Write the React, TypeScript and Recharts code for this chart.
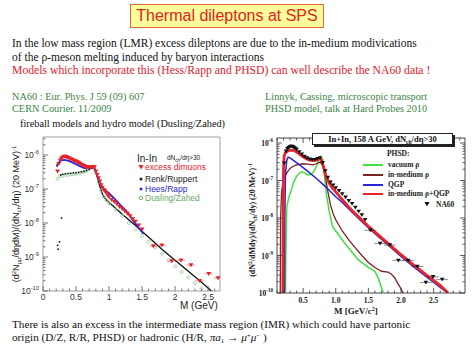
import React from 'react';
import { ComposedChart, Line, XAxis, YAxis, ReferenceArea } from 'recharts';

// ---------- left plot: NA60 excess vs. fireball / hydro models ----------
const excessM = [0.22, 0.24, 0.26, 0.28, 0.3, 0.32, 0.34, 0.36, 0.38, 0.4, 0.42, 0.44, 0.46, 0.48, 0.5, 0.52, 0.54, 0.56, 0.58, 0.6, 0.62, 0.64, 0.66, 0.68, 0.7, 0.72, 0.74, 0.76, 0.78, 0.8, 0.82, 0.84, 0.86, 0.88, 0.9, 0.92, 0.94, 0.96, 0.98, 1.0, 1.04, 1.08, 1.12, 1.16, 1.2, 1.24, 1.28, 1.32, 1.36, 1.4, 1.45, 1.5, 1.67, 1.8, 1.95, 2.09, 2.24, 2.37, 2.51, 2.65];
const excessY = [3.3e-7, 5.5e-7, 7e-7, 8e-7, 8.5e-7, 9e-7, 9e-7, 8.7e-7, 8.3e-7, 8e-7, 7.6e-7, 7.3e-7, 7e-7, 6.7e-7, 6.5e-7, 6.2e-7, 6e-7, 5.6e-7, 5.2e-7, 5e-7, 4.8e-7, 4.6e-7, 4.5e-7, 4.4e-7, 4.3e-7, 4.3e-7, 4.4e-7, 4.5e-7, 4.4e-7, 3.3e-7, 2.6e-7, 2.1e-7, 1.7e-7, 1.3e-7, 1.1e-7, 9.5e-8, 8.5e-8, 7.5e-8, 6.5e-8, 5.8e-8, 4.8e-8, 4.2e-8, 3.6e-8, 3e-8, 2.6e-8, 2.2e-8, 1.9e-8, 1.6e-8, 1.3e-8, 1.1e-8, 8.5e-9, 6.5e-9, 2.1e-9, 2.2e-9, 7.6e-10, 8e-10, 5.8e-10, 2e-10, 3.2e-10, 2.4e-10];

const heesM = [0.21, 0.22, 0.25, 0.28, 0.32, 0.36, 0.4, 0.45, 0.5, 0.55, 0.6, 0.65, 0.7, 0.74, 0.77, 0.8, 0.84, 0.88, 0.92, 0.96, 1.0, 1.1, 1.2, 1.3, 1.36, 1.42, 1.48, 1.52];
const heesY = [4.5e-7, 5.5e-7, 6.5e-7, 7e-7, 7.2e-7, 7e-7, 6.6e-7, 6e-7, 5.4e-7, 4.8e-7, 4.3e-7, 4e-7, 4e-7, 4.2e-7, 4.3e-7, 3.2e-7, 2e-7, 1.3e-7, 1e-7, 8.5e-8, 7.5e-8, 4.8e-8, 3e-8, 1.8e-8, 1.2e-8, 8.5e-9, 6e-9, 4.8e-9];

const renkDotM = [0.22, 0.23, 0.25, 0.27, 0.28, 0.3, 0.34, 0.38, 0.42, 0.46, 0.5, 0.54, 0.58, 0.62, 0.66, 0.7, 0.74];
const renkDotY = [2.2e-9, 1.7e-9, 2.8e-9, 2.6e-7, 1.4e-8, 2.7e-7, 2.8e-7, 2.9e-7, 2.9e-7, 3e-7, 3e-7, 3.1e-7, 3.2e-7, 3.3e-7, 3.5e-7, 3.8e-7, 4.1e-7];
const renkLineM = [0.76, 0.78, 0.8, 0.83, 0.86, 0.9, 0.95, 1.0, 1.1, 1.2, 1.4, 1.6, 1.8, 2.0, 2.2, 2.4, 2.55];
const renkLineY = [4.3e-7, 4.2e-7, 3.3e-7, 2e-7, 1.2e-7, 7e-8, 5e-8, 4e-8, 2.7e-8, 1.8e-8, 8.5e-9, 3.8e-9, 1.7e-9, 8e-10, 3.8e-10, 1.8e-10, 1e-10];

const dusM = [0.22, 0.26, 0.3, 0.34, 0.38, 0.42, 0.46, 0.5, 0.54, 0.58, 0.62, 0.66, 0.7, 0.74, 0.77, 0.8, 0.84, 0.88, 0.92, 0.96, 1.0, 1.1, 1.2, 1.3, 1.4, 1.5, 1.6, 1.7, 1.8, 1.9, 2.0, 2.1, 2.2, 2.3, 2.4];
const dusY = [2e-7, 2.4e-7, 2.5e-7, 2.6e-7, 2.6e-7, 2.7e-7, 2.7e-7, 2.8e-7, 2.9e-7, 3e-7, 3.2e-7, 3.5e-7, 3.9e-7, 4.4e-7, 4.6e-7, 3.2e-7, 1.6e-7, 9e-8, 6e-8, 4.6e-8, 3.8e-8, 2.5e-8, 1.6e-8, 1e-8, 6.5e-9, 4.2e-9, 2.8e-9, 1.9e-9, 1.25e-9, 8e-10, 5.3e-10, 3.6e-10, 2.5e-10, 1.7e-10, 1.2e-10];

// ---------- right plot: PHSD ----------
const vacM = [0.23, 0.235, 0.25, 0.28, 0.31, 0.35, 0.4, 0.45, 0.48, 0.52, 0.56, 0.6, 0.65, 0.7, 0.74, 0.77, 0.8, 0.83, 0.86, 0.9, 0.95, 1.0, 1.15, 1.35, 1.5, 1.6, 1.65, 1.7, 1.73];
const vacY = [1e-10, 1e-9, 2e-8, 3.5e-8, 5e-8, 8.5e-8, 1.3e-7, 1.6e-7, 1.7e-7, 1.6e-7, 1.45e-7, 1.4e-7, 1.6e-7, 2.3e-7, 3.6e-7, 4.4e-7, 3.6e-7, 1.2e-7, 4e-8, 1.5e-8, 6e-9, 4.5e-9, 2e-9, 7.5e-10, 4.8e-10, 3.8e-10, 2.5e-10, 1.4e-10, 1e-10];

const medM = [0.15, 0.155, 0.17, 0.2, 0.25, 0.3, 0.35, 0.4, 0.5, 0.6, 0.65, 0.7, 0.76, 0.8, 0.84, 0.88, 0.92, 0.96, 1.0, 1.1, 1.2, 1.3, 1.4, 1.5, 1.6, 1.7, 1.8, 1.85, 1.9, 1.95, 2.0, 2.03];
const medY = [1e-10, 1e-8, 5e-8, 1.1e-7, 1.6e-7, 2.1e-7, 2.4e-7, 2.6e-7, 2.8e-7, 2.7e-7, 2.6e-7, 2.8e-7, 3.1e-7, 2.5e-7, 1.3e-7, 5e-8, 2.2e-8, 1.3e-8, 9e-9, 4.5e-9, 2.6e-9, 1.6e-9, 1e-9, 6.5e-10, 4.8e-10, 3.8e-10, 3.6e-10, 3.2e-10, 2.6e-10, 1.8e-10, 1.3e-10, 1e-10];

const qgpM = [0.215, 0.22, 0.23, 0.25, 0.27, 0.3, 0.4, 0.5, 0.6, 0.7, 0.8, 0.9, 1.0, 1.1, 1.2, 1.4, 1.6, 1.8, 2.0, 2.2, 2.4, 2.6, 2.7];
const qgpY = [1e-10, 1e-8, 1.5e-7, 3.5e-7, 4.2e-7, 4e-7, 3e-7, 2.2e-7, 1.6e-7, 1.15e-7, 8e-8, 5.5e-8, 3.7e-8, 2.6e-8, 1.75e-8, 8e-9, 3.8e-9, 1.9e-9, 9.5e-10, 4.9e-10, 2.6e-10, 1.4e-10, 1.05e-10];

const sumM = [0.19, 0.195, 0.2, 0.21, 0.23, 0.26, 0.3, 0.35, 0.4, 0.45, 0.5, 0.55, 0.6, 0.65, 0.7, 0.75, 0.78, 0.81, 0.85, 0.9, 0.95, 1.0, 1.1, 1.2, 1.3, 1.4, 1.5, 1.6, 1.8, 2.0, 2.2, 2.4, 2.6, 2.72];
const sumY = [1e-10, 1e-8, 2e-7, 4.5e-7, 5.6e-7, 6e-7, 6.4e-7, 6.4e-7, 5.8e-7, 5e-7, 4.3e-7, 3.8e-7, 3.5e-7, 3.4e-7, 3.5e-7, 3.8e-7, 3.6e-7, 2.4e-7, 1.3e-7, 8.5e-8, 6.3e-8, 5e-8, 3.1e-8, 1.95e-8, 1.3e-8, 8.8e-9, 6e-9, 4.2e-9, 2.1e-9, 1.05e-9, 5.5e-10, 2.9e-10, 1.6e-10, 1e-10];

const na60M = [0.21, 0.24, 0.26, 0.28, 0.3, 0.32, 0.34, 0.36, 0.38, 0.4, 0.44, 0.48, 0.52, 0.56, 0.6, 0.64, 0.68, 0.72, 0.76, 0.8, 0.84, 0.88, 0.92, 0.96, 1.0, 1.05, 1.1, 1.15, 1.2, 1.25, 1.3, 1.35, 1.4, 1.45, 1.53, 1.68, 1.83, 1.96, 2.11, 2.25, 2.38, 2.49, 2.63];
const na60Y = [2.9e-7, 6e-7, 7e-7, 7.5e-7, 8e-7, 8.2e-7, 8e-7, 7.6e-7, 7.2e-7, 6.7e-7, 5.8e-7, 5e-7, 4.4e-7, 4e-7, 3.7e-7, 3.6e-7, 3.6e-7, 3.8e-7, 4e-7, 3e-7, 1.8e-7, 1.2e-7, 9e-8, 7.5e-8, 6.3e-8, 5.3e-8, 4.4e-8, 3.6e-8, 2.9e-8, 2.4e-8, 1.9e-8, 1.5e-8, 1.2e-8, 9e-9, 4.7e-9, 2.1e-9, 1.9e-9, 7.4e-10, 7.4e-10, 5.1e-10, 1.9e-10, 2.7e-10, 2.3e-10];

const decades = [1e-10, 1e-9, 1e-8, 1e-7, 1e-6];

// layout of the two panels (page pixels)
const LP = { left: 0, top: 128, width: 230, height: 190, plotL: 43, plotR: 220, plotT: 137, plotB: 291, xMax: 2.68, yMax: 3.39e-6 };
const RP = { left: 235, top: 128, width: 239, height: 192, plotL: 277, plotR: 465, plotT: 138, plotB: 293, xMin: 0.1, xMax: 2.98, yMax: 1.36e-6 };

const pts = (m: number[], y: number[]) => m.map((v, i) => ({ m: v, y: y[i] }));

const logTicks = (max: number) => {
  const out: number[] = [];
  decades.forEach((d) => {
    for (let k = 1; k <= 9; k++) if (d * k <= max * 1.0001) out.push(d * k);
  });
  return out;
};
const stepTicks = (from: number, to: number) => {
  const out: number[] = [];
  for (let i = Math.round(from * 10); i <= Math.round(to * 10); i++) out.push(i / 10);
  return out;
};
const isDecade = (v: number) => Math.abs(Math.log10(v) - Math.round(Math.log10(v))) < 1e-6;
const isHalf = (v: number) => Math.abs(v * 2 - Math.round(v * 2)) < 1e-6;

const sans = '"Liberation Sans", Arial, sans-serif';
const serif = '"Liberation Serif", "Times New Roman", serif';

function yTick(ax: number, right: number | null, big: number, small: number, font: any, gap: number) {
  return (p: any) => {
    const { y, payload } = p;
    const v = payload.value;
    const major = isDecade(v);
    const len = major ? big : small;
    return (
      <g>
        <line x1={ax} x2={ax + len} y1={y} y2={y} stroke={font.stroke} strokeWidth={0.8} />
        {right !== null && <line x1={right - len} x2={right} y1={y} y2={y} stroke={font.stroke} strokeWidth={0.8} />}
        {major && (
          <text x={ax - gap} y={y + 3} textAnchor="end" fontFamily={font.family} fontWeight={font.weight} fontSize={font.size} fill={font.fill}>
            10<tspan dy={-4} fontSize={font.size * 0.68}>{Math.round(Math.log10(v))}</tspan>
          </text>
        )}
      </g>
    );
  };
}

function xTick(ay: number, top: number | null, big: number, small: number, font: any, gap: number, fmt: (v: number) => string) {
  return (p: any) => {
    const { x, payload } = p;
    const v = payload.value;
    const major = isHalf(v);
    const len = major ? big : small;
    return (
      <g>
        <line x1={x} x2={x} y1={ay} y2={ay - len} stroke={font.stroke} strokeWidth={0.8} />
        {top !== null && <line x1={x} x2={x} y1={top} y2={top + len} stroke={font.stroke} strokeWidth={0.8} />}
        {major && (
          <text x={x} y={ay + gap} textAnchor="middle" fontFamily={font.family} fontWeight={font.weight} fontSize={font.size} fill={font.fill}>
            {fmt(v)}
          </text>
        )}
      </g>
    );
  };
}

function triangle(color: string, s: number, errFrom: number, errW: number) {
  return (p: any) => {
    const { cx, cy, index, payload } = p;
    if (!Number.isFinite(cx) || !Number.isFinite(cy)) return <g key={index} />;
    const w = payload.m > errFrom ? errW : 0;
    return (
      <g key={index}>
        {w > 0 && <line x1={cx - w} x2={cx + w} y1={cy} y2={cy} stroke={color} strokeOpacity={0.45} />}
        <path d={`M${cx - s},${cy - s * 0.75}L${cx + s},${cy - s * 0.75}L${cx},${cy + s * 0.9}Z`} fill={color} />
      </g>
    );
  };
}

const abs = (left: number, top: number, extra: any = {}): React.CSSProperties => ({
  position: 'absolute', left, top, whiteSpace: 'nowrap', ...extra,
});

// raised / lowered small text that does not grow the line box
const up = (t: string, size: number, dy = -3) => <span style={{ fontSize: size, position: 'relative', top: dy, lineHeight: 0 }}>{t}</span>;
const dn = (t: string, size: number, dy = 2) => <span style={{ fontSize: size, position: 'relative', top: dy, lineHeight: 0 }}>{t}</span>;

function LeftPlot() {
  const ax = LP.plotL - LP.left;
  const ay = LP.plotB - LP.top;
  const f = { family: sans, size: 8.5, fill: '#333', stroke: '#555', weight: 400 };
  return (
    <div style={abs(LP.left, LP.top)}>
      <ComposedChart width={LP.width} height={LP.height} margin={{ top: LP.plotT - LP.top, right: LP.left + LP.width - LP.plotR, left: 0, bottom: 0 }}>
        <XAxis dataKey="m" type="number" domain={[0, LP.xMax]} allowDataOverflow ticks={stepTicks(0, 2.6)} interval={0}
          height={LP.top + LP.height - LP.plotB} axisLine={false} tickLine={false}
          tick={xTick(ay, null, 5, 2.5, f, 8.5, (v) => String(v))} />
        <YAxis type="number" scale="log" domain={[1e-10, LP.yMax]} allowDataOverflow ticks={logTicks(LP.yMax)} interval={0}
          width={ax} axisLine={false} tickLine={false} tick={yTick(ax, null, 5, 2.5, f, 4)} />
        <ReferenceArea x1={0} x2={LP.xMax} y1={1e-10} y2={LP.yMax} fill="none" stroke="#888" strokeWidth={0.8} />
        <Line data={pts(dusM, dusY)} dataKey="y" stroke="none" isAnimationActive={false} activeDot={false}
          dot={{ r: 1.5, stroke: '#9fd09f', strokeWidth: 0.9, fill: 'none' }} />
        <Line data={pts(renkLineM, renkLineY)} dataKey="y" stroke="#111" strokeWidth={1.3} dot={false} isAnimationActive={false} />
        <Line data={pts(renkDotM, renkDotY)} dataKey="y" stroke="none" isAnimationActive={false} activeDot={false}
          dot={{ r: 0.9, fill: '#111', stroke: 'none' }} />
        <Line data={pts(excessM, excessY)} dataKey="y" stroke="none" isAnimationActive={false} activeDot={false}
          dot={triangle('#e8202a', 2.4, 1.55, 4)} />
        <Line data={pts(heesM, heesY)} dataKey="y" stroke="#2a2ad2" strokeWidth={1.8} dot={false} isAnimationActive={false} />
      </ComposedChart>
    </div>
  );
}

function RightPlot() {
  const ax = RP.plotL - RP.left;
  const ay = RP.plotB - RP.top;
  const f = { family: serif, size: 7.5, fill: '#222', stroke: '#333', weight: 700 };
  return (
    <div style={abs(RP.left, RP.top)}>
      <ComposedChart width={RP.width} height={RP.height} margin={{ top: RP.plotT - RP.top, right: RP.left + RP.width - RP.plotR, left: 0, bottom: 0 }}>
        <XAxis dataKey="m" type="number" domain={[RP.xMin, RP.xMax]} allowDataOverflow ticks={stepTicks(0.1, 2.9)} interval={0}
          height={RP.top + RP.height - RP.plotB} axisLine={false} tickLine={false}
          tick={xTick(ay, RP.plotT - RP.top, 5, 2.5, f, 10, (v) => v.toFixed(1))} />
        <YAxis type="number" scale="log" domain={[1e-10, RP.yMax]} allowDataOverflow ticks={logTicks(RP.yMax)} interval={0}
          width={ax} axisLine={false} tickLine={false} tick={yTick(ax, RP.plotR - RP.left, 5, 2.5, f, 4)} />
        <ReferenceArea x1={RP.xMin} x2={RP.xMax} y1={1e-10} y2={RP.yMax} fill="none" stroke="#333" strokeWidth={0.9} />
        <Line data={pts(vacM, vacY)} dataKey="y" stroke="#3fe03f" strokeWidth={1.5} dot={false} isAnimationActive={false} />
        <Line data={pts(medM, medY)} dataKey="y" stroke="#7a2424" strokeWidth={1.3} dot={false} isAnimationActive={false} />
        <Line data={pts(qgpM, qgpY)} dataKey="y" stroke="#2626d8" strokeWidth={1.5} dot={false} isAnimationActive={false} />
        <Line data={pts(sumM, sumY)} dataKey="y" stroke="#e8242a" strokeWidth={2.8} dot={false} isAnimationActive={false} />
        <Line data={pts(na60M, na60Y)} dataKey="y" stroke="none" isAnimationActive={false} activeDot={false}
          dot={triangle('#111', 2.3, 1.5, 6)} />
      </ComposedChart>
    </div>
  );
}

const mark = (kind: string, color: string) => (
  <svg width={6} height={6} style={{ position: 'absolute', left: -7, top: 2 }}>
    {kind === 'tri' && <path d="M0.5,1L5.5,1L3,5.5Z" fill={color} />}
    {kind === 'dot' && <circle cx={3} cy={3} r={1.5} fill={color} />}
    {kind === 'ring' && <circle cx={3} cy={3} r={1.6} fill="none" stroke={color} strokeWidth={0.9} />}
  </svg>
);

const leftLegend = [
  { label: 'excess dimuons', color: '#e8202a', kind: 'tri', top: 162 },
  { label: 'Renk/Ruppert', color: '#222', kind: 'dot', top: 173.5 },
  { label: 'Hees/Rapp', color: '#2a2ad2', kind: 'dot', top: 183.5 },
  { label: 'Dusling/Zahed', color: '#6aa86a', kind: 'ring', top: 193 },
];

const rightLegend = [
  { label: 'vacuum ρ', color: '#3fe03f', top: 160 },
  { label: 'in-medium ρ', color: '#7a2424', top: 170 },
  { label: 'QGP', color: '#2626d8', top: 179.5 },
  { label: 'in-medium ρ+QGP', color: '#e8242a', top: 189 },
];

export default function App() {
  const body = { fontSize: 11.5, lineHeight: '14px', color: '#111' };
  const green = { fontSize: 10.3, lineHeight: '12px', color: '#3b8545' };
  return (
    <div style={{ position: 'absolute', left: 0, top: 0, width: 474, height: 355, background: '#fff', overflow: 'hidden', fontFamily: serif }}>
      <div style={abs(130, 4, { width: 194, height: 24, boxSizing: 'border-box', background: '#fdfd9c', border: '1px solid #e06a36', textAlign: 'center', fontFamily: sans, fontSize: 16, lineHeight: '22px', color: '#e3211c' })}>
        Thermal dileptons at SPS
      </div>

      <div style={abs(12, 35.5, body)}>In the low mass region (LMR) excess dileptons are due to the in-medium modivications</div>
      <div style={abs(12, 49.5, body)}>of the ρ-meson melting induced by baryon interactions</div>
      <div style={abs(12, 64, { ...body, fontSize: 11.7, color: '#e3202c' })}>Models which incorporate this (Hess/Rapp and PHSD) can well describe the NA60 data !</div>

      <div style={abs(12, 90.5, green)}>NA60 : Eur. Phys. J 59 (09) 607</div>
      <div style={abs(12, 102.5, green)}>CERN Courier. 11/2009</div>
      <div style={abs(265, 90.5, green)}>Linnyk, Cassing, microscopic transport</div>
      <div style={abs(265, 102.5, green)}>PHSD model, talk at Hard Probes 2010</div>
      <div style={abs(20, 118, { fontSize: 10.3, lineHeight: '12px', color: '#111' })}>fireball models and hydro model (Dusling/Zahed)</div>

      <LeftPlot />
      <RightPlot />

      {/* left panel annotations */}
      <div style={abs(15.5, 214, { transform: 'translate(-50%, -50%) rotate(-90deg)', fontFamily: sans, fontSize: 9, lineHeight: '11px', color: '#222' })}>
        (d{up('2', 6)}N{dn('μμ', 6)}/dηdM)/(dN{dn('ch', 6)}/dη) (20 MeV){up('-1', 6)}
      </div>
      <div style={abs(180, 300, { fontFamily: sans, fontSize: 10, lineHeight: '11px', color: '#222' })}>M (GeV)</div>
      <div style={abs(137, 152.5, { fontFamily: sans, fontSize: 10, lineHeight: '11px', color: '#222' })}>In-In</div>
      <div style={abs(167, 154, { fontFamily: sans, fontSize: 6.5, lineHeight: '7px', color: '#222' })}>
        dN{dn('ch', 4.5, 1.5)}/dη&gt;30
      </div>
      {leftLegend.map((it) => (
        <div key={it.label} style={abs(145, it.top, { fontFamily: sans, fontSize: 8.5, lineHeight: '10px', color: it.color })}>
          {mark(it.kind, it.color)}
          {it.label}
        </div>
      ))}

      {/* right panel annotations */}
      <div style={abs(253, 220, { transform: 'translate(-50%, -50%) rotate(-90deg)', fontFamily: serif, fontWeight: 700, fontSize: 8, lineHeight: '10px', color: '#222' })}>
        (dN{up('2', 5.5)}/dMdy)/(dN{dn('ch', 5.5)}/dy)  (20 MeV){up('-1', 5.5)}
      </div>
      <div style={abs(334, 307, { fontFamily: serif, fontWeight: 700, fontSize: 9, lineHeight: '9px', color: '#222' })}>
        M  [GeV/c{up('2', 6)}]
      </div>
      <div style={abs(312, 133, { width: 141, height: 12, boxSizing: 'border-box', background: '#fff', border: '1px solid #222', boxShadow: '2px 2px 0 #222', textAlign: 'center', fontFamily: serif, fontWeight: 700, fontSize: 8.5, lineHeight: '10px', color: '#111' })}>
        In+In, 158 A GeV, dN{dn('ch', 5.5, 1.5)}/dη&gt;30
      </div>
      <div style={abs(387, 149, { fontFamily: serif, fontWeight: 700, fontSize: 7.5, lineHeight: '10px', color: '#222' })}>PHSD:</div>
      {rightLegend.map((it) => (
        <div key={it.label} style={abs(363, it.top, { fontFamily: serif, fontWeight: 700, fontSize: 7.5, lineHeight: '10px', color: '#222' })}>
          <span style={{ display: 'inline-block', width: 20, height: 0, borderTop: `2px solid ${it.color}`, verticalAlign: 'middle', marginRight: 5 }} />
          {it.label}
        </div>
      ))}
      <div style={abs(424, 200, { fontFamily: serif, fontWeight: 700, fontSize: 7.5, lineHeight: '10px', color: '#222' })}>
        <svg width={6} height={6} style={{ marginRight: 6 }}><path d="M0.5,1L5.5,1L3,5.5Z" fill="#111" /></svg>
        NA60
      </div>

      <div style={abs(12, 317.5, { fontSize: 11.2, lineHeight: '13px', color: '#111' })}>
        There is also an excess in the intermediate mass region (IMR) which could have partonic
      </div>
      <div style={abs(12, 331, { fontSize: 11.2, lineHeight: '13px', color: '#111' })}>
        origin (D/Z, R/R, PHSD) or hadronic (H/R, <i>πa</i>{dn('1', 7)} → <i>μ</i>{up('+', 7)}<i>μ</i>{up('−', 7)} )
      </div>
    </div>
  );
}
